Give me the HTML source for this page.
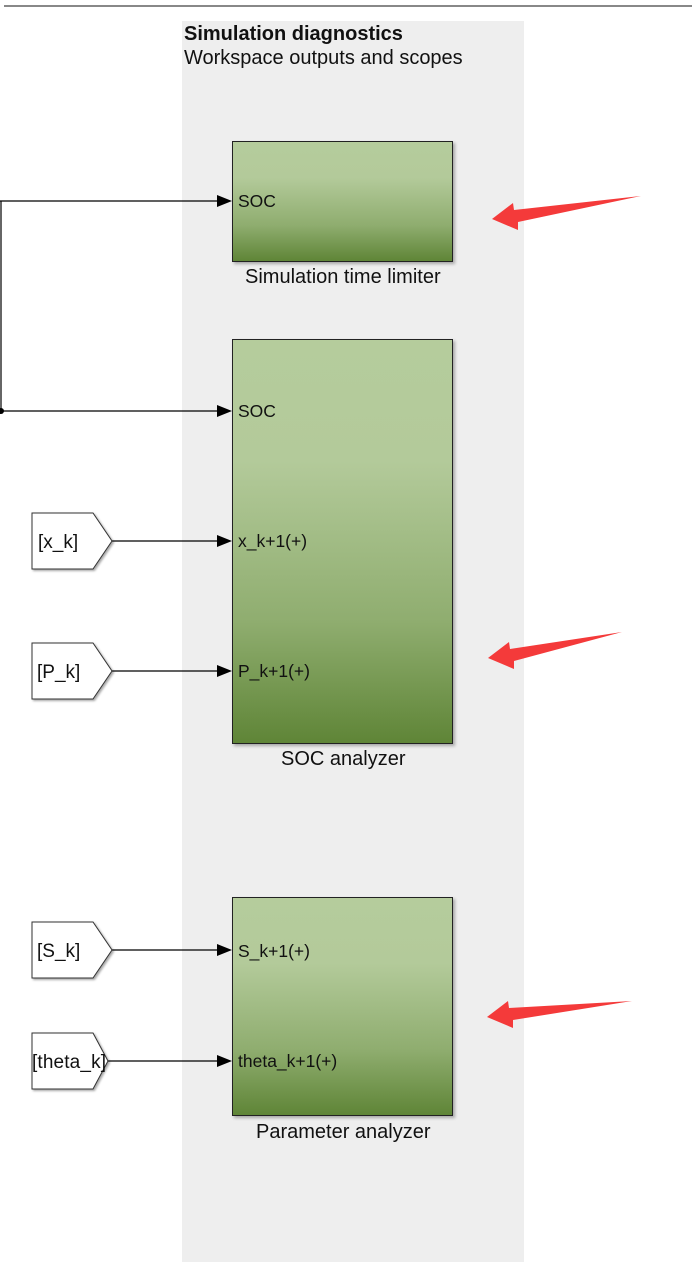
<!DOCTYPE html>
<html><head><meta charset="utf-8"><style>
body{margin:0;width:700px;height:1286px;background:#fff;position:relative;overflow:hidden;font-family:"Liberation Sans",sans-serif}
.blk{position:absolute;left:232px;width:219px;border:1px solid #222;background:linear-gradient(#b5cc9c 0%,#b3ca9a 30%,#8fad6f 70%,#5f8537 100%);box-shadow:2px 2px 3px rgba(0,0,0,0.3)}
.t{position:absolute;font-size:20px;color:#111;white-space:nowrap}
.p{position:absolute;font-size:17.5px;color:#111;white-space:nowrap}
</style></head><body>
<div style="position:absolute;left:4px;top:5px;width:688px;height:2px;background:#888;"></div>
<div style="position:absolute;left:182px;top:21px;width:342px;height:1241px;background:#eeeeee"></div>
<div class="t" style="left:184px;top:23px;font-weight:bold">Simulation diagnostics</div>
<div class="t" style="left:184px;top:47px">Workspace outputs and scopes</div>
<div class="blk" style="top:141px;height:119px"></div>
<div class="blk" style="top:339px;height:403px"></div>
<div class="blk" style="top:897px;height:217px"></div>
<div class="p" style="left:238px;top:191px">SOC</div>
<div class="p" style="left:238px;top:401px">SOC</div>
<div class="p" style="left:238px;top:531px">x_k+1(+)</div>
<div class="p" style="left:238px;top:661px">P_k+1(+)</div>
<div class="p" style="left:238px;top:941px">S_k+1(+)</div>
<div class="p" style="left:238px;top:1051px">theta_k+1(+)</div>
<div class="t" style="left:245px;top:266px">Simulation time limiter</div>
<div class="t" style="left:281px;top:748px">SOC analyzer</div>
<div class="t" style="left:256px;top:1121px">Parameter analyzer</div>
<svg width="700" height="1286" style="position:absolute;left:0;top:0">
<defs><filter id="s"><feDropShadow dx="1.5" dy="1.5" stdDeviation="1" flood-opacity="0.35"/></filter></defs>
<g stroke="#000" stroke-width="1.2" fill="none">
<path d="M0,201H220M1,201V411M0,411H220M112,541H220M112,671H220M112,950H220M108,1061H220"/>
</g>
<circle cx="1" cy="411" r="3" fill="#000"/>
<g fill="#000">
<path d="M217,195L232,201L217,207Z"/><path d="M217,405L232,411L217,417Z"/>
<path d="M217,535L232,541L217,547Z"/><path d="M217,665L232,671L217,677Z"/>
<path d="M217,944L232,950L217,956Z"/><path d="M217,1055L232,1061L217,1067Z"/>
</g>
<g fill="#fff" stroke="#333" stroke-width="1" filter="url(#s)">
<path d="M32,513H93L112,541L93,569H32Z"/>
<path d="M32,643H93L112,671L93,699H32Z"/>
<path d="M32,922H93L112,950L93,978H32Z"/>
<path d="M32,1033H93L108,1061L93,1089H32Z"/>
</g>
<g font-family="Liberation Sans,sans-serif" font-size="19" fill="#111">
<text x="38" y="548">[x_k]</text><text x="37" y="678">[P_k]</text>
<text x="37" y="957">[S_k]</text><text x="32" y="1068" textLength="74">[theta_k]</text>
</g>
<g fill="#f43a3a">
<path d="M492,219L513,203L514,210L641,196L518,222L518,230Z"/>
<path d="M488,658L509,642L510,649L622,632L514,661L514,669Z"/>
<path d="M487,1017L508,1001L509,1008L632,1001L513,1020L513,1028Z"/>
</g>
</svg>
</body></html>
